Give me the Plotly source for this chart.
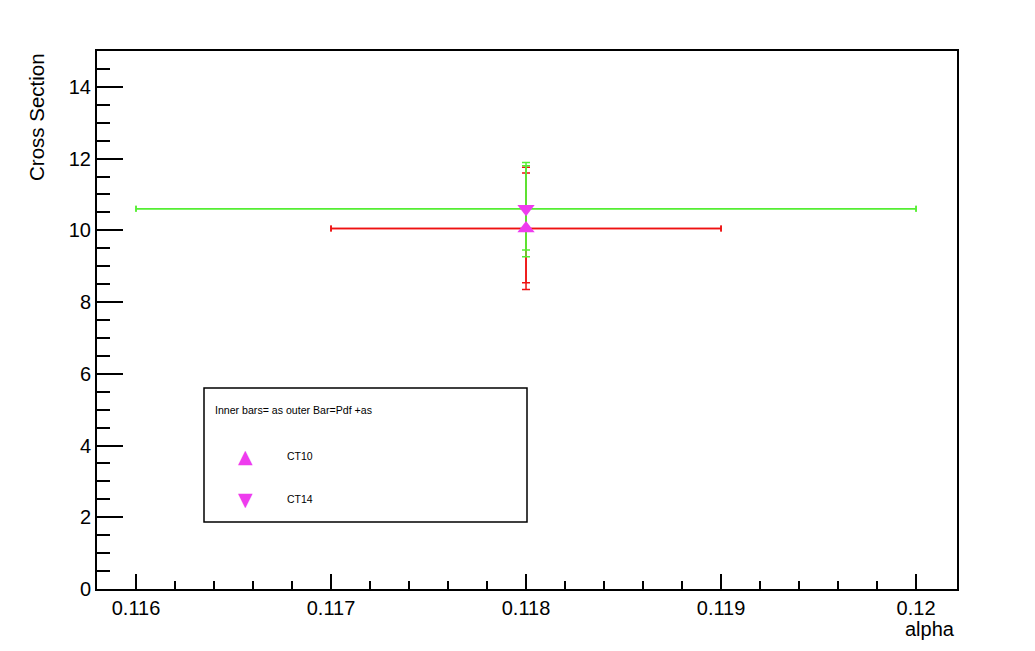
import plotly.graph_objects as go

# ---- data ----
series = ["CT10", "CT14"]
alpha_vals = [0.118, 0.118]
xsec_vals = [10.05, 10.6]
alpha_err = [0.001, 0.002]
inner_low = [8.54, 9.45]
inner_high = [11.6, 11.8]
outer_low = [8.35, 9.26]
outer_high = [11.76, 11.89]
bar_colors = ["#ee1111", "#55ee33"]
marker_symbols = ["triangle-up", "triangle-down"]
legend_header = "Inner bars= as outer Bar=Pdf +as"
x_ticks = [0.116, 0.117, 0.118, 0.119, 0.12]
x_ticktext = ["0.116", "0.117", "0.118", "0.119", "0.12"]
y_ticks = [0, 2, 4, 6, 8, 10, 12, 14]

MAGENTA = "#ee3cee"
FONT = "Liberation Sans, Arial, Helvetica, sans-serif"

x_minor = [round(0.116 + 0.0002 * k, 5) for k in range(21)]

fig = go.Figure()

for i, name in enumerate(series):
    y = xsec_vals[i]
    for lo, hi in ((outer_low[i], outer_high[i]), (inner_low[i], inner_high[i])):
        fig.add_trace(go.Scatter(
            x=[alpha_vals[i]], y=[y], mode="markers",
            marker=dict(size=1, color="rgba(0,0,0,0)"),
            error_y=dict(type="data", symmetric=False, array=[hi - y], arrayminus=[y - lo],
                         color=bar_colors[i], thickness=1.5, width=4),
            error_x=dict(type="data", array=[alpha_err[i]], color=bar_colors[i],
                         thickness=1.5, width=3),
            showlegend=False, hoverinfo="skip"))

for i, name in enumerate(series):
    fig.add_trace(go.Scatter(
        x=[alpha_vals[i]], y=[xsec_vals[i]], mode="markers", name=name,
        marker=dict(symbol=marker_symbols[i], size=15, color=MAGENTA, line=dict(width=0)),
        showlegend=False))

# ---- legend box (drawn manually, ROOT style) ----
L, R, T, B = 204, 527, 388, 522   # pixel positions in the window
pl, pr, pt, pb = 97, 957, 51, 589
def px(x): return (x - pl) / (pr - pl)
def py(y): return (pb - y) / (pb - pt)

fig.add_shape(type="rect", xref="paper", yref="paper",
              x0=px(L), x1=px(R), y0=py(B), y1=py(T),
              line=dict(color="black", width=1.5), fillcolor="white", layer="above")
fig.add_annotation(xref="paper", yref="paper", x=px(213), y=py(410), text=legend_header,
                   showarrow=False, xanchor="left", yanchor="middle",
                   font=dict(size=10.6, color="black", family=FONT))
for i, (name, sym, ypos) in enumerate(zip(series, ["▲", "▼"], [456, 499])):
    fig.add_annotation(xref="paper", yref="paper", x=px(245), y=py(ypos), text=sym,
                       showarrow=False, xanchor="center", yanchor="middle",
                       font=dict(size=19, color=MAGENTA, family="DejaVu Sans"))
    fig.add_annotation(xref="paper", yref="paper", x=px(285), y=py(ypos), text=name,
                       showarrow=False, xanchor="left", yanchor="middle",
                       font=dict(size=10.5, color="black", family=FONT))

# ---- axis titles ----
fig.add_annotation(xref="paper", yref="paper", x=1, y=py(629), text="alpha",
                   showarrow=False, xanchor="right", yanchor="middle",
                   font=dict(size=20, color="black", family=FONT))
fig.add_annotation(xref="paper", yref="paper", x=px(36), y=1, text="Cross Section",
                   textangle=-90, showarrow=False, xanchor="center", yanchor="top",
                   font=dict(size=20.5, color="black", family=FONT))

# page body has an 8px margin, so the figure is shifted by 8px; compensate
fig.update_layout(
    width=1027, height=643,
    margin=dict(l=89, r=78, t=43, b=62),
    paper_bgcolor="white", plot_bgcolor="white",
    showlegend=False,
    font=dict(family=FONT, size=20, color="black"),
    xaxis=dict(range=[0.1158, 0.12021], tickvals=x_ticks, ticktext=x_ticktext,
               ticks="inside", ticklen=15, tickwidth=1.5, tickcolor="black",
               minor=dict(ticks="inside", ticklen=8, tickvals=x_minor,
                          tickwidth=1.5, tickcolor="black", showgrid=False),
               showline=True, linecolor="black", linewidth=2, mirror=True,
               showgrid=False, zeroline=False, tickfont=dict(size=20)),
    yaxis=dict(range=[0, 15], tickvals=y_ticks,
               ticks="inside", ticklen=26, tickwidth=1.5, tickcolor="black",
               minor=dict(ticks="inside", ticklen=13, dtick=0.5, tick0=0,
                          tickwidth=1.5, tickcolor="black", showgrid=False),
               showline=True, linecolor="black", linewidth=2, mirror=True,
               showgrid=False, zeroline=False, tickfont=dict(size=20)),
)

fig.write_html("out.html")
